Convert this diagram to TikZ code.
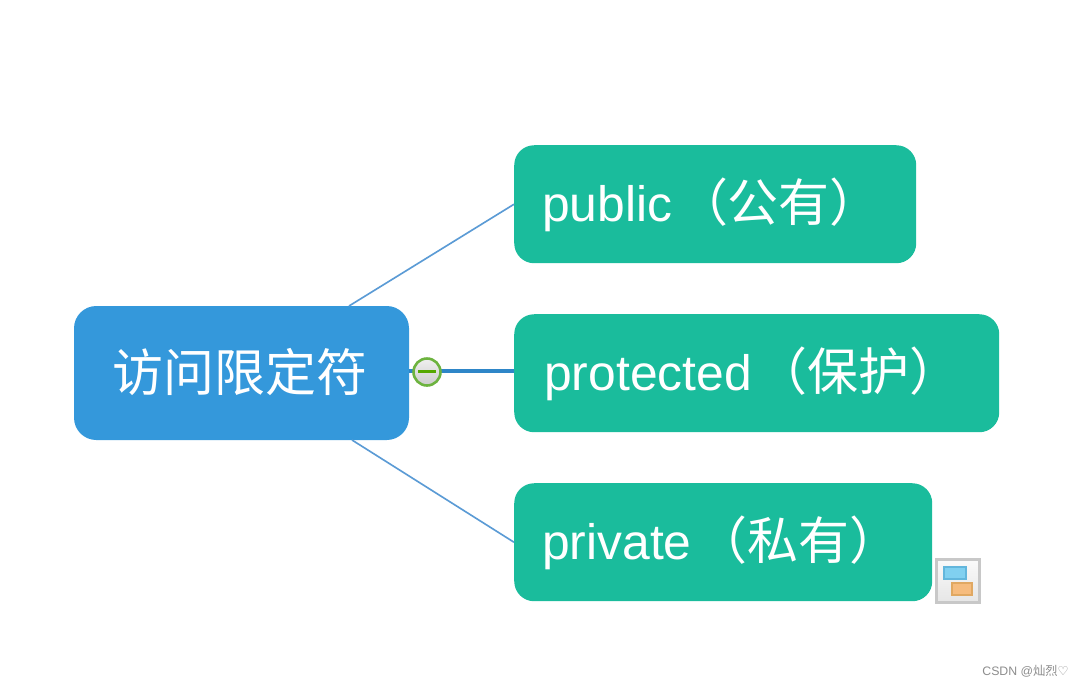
\documentclass[tikz,border=0pt]{standalone}
\usepackage{xcolor}
\usepackage{fontspec}
\setmainfont{Liberation Sans}
\newfontfamily\cjk{Noto Sans CJK SC}
\newfontfamily\symb{DejaVu Sans}
\usepackage{tikz}

\definecolor{rootblue}{HTML}{3498DB}
\definecolor{leafgreen}{HTML}{1ABC9C}
\definecolor{linkblue}{HTML}{5B9BD5}
\definecolor{midblue}{HTML}{2E86C8}
\definecolor{ringgreen}{HTML}{6DB33F}
\definecolor{bargreen}{HTML}{55A800}
\definecolor{iconedge}{HTML}{C8C8C8}
\definecolor{iconblueedge}{HTML}{62B6DC}
\definecolor{iconbluefill}{HTML}{80D0F0}
\definecolor{iconorangeedge}{HTML}{E0A862}
\definecolor{iconorangefill}{HTML}{F6BC7E}

\newcommand{\cjkpart}[1]{{\fontsize{43.5}{46}\cjk\hspace{4pt}#1}}

\tikzset{
    rootbox/.style={rectangle, rounded corners=19pt, fill=rootblue, inner sep=0pt},
    leafbox/.style={rectangle, rounded corners=17pt, fill=leafgreen, inner sep=0pt, anchor=north west},
    leaftext/.style={text=white, anchor=base west, inner sep=0pt, font=\fontsize{42.5}{46}\selectfont},
    link/.style={linkblue, line width=1.4pt},
}

\begin{document}
\begin{tikzpicture}[x=0.03cm, y=-0.03cm]
        \useasboundingbox (0,0) rectangle (1083,687);

        \node [rootbox, minimum width=335*0.03cm, minimum height=134*0.03cm] (root) at (241.5,373) {};
        \node [text=white, inner sep=0pt, font=\fontsize{43.5}{46}\selectfont\cjk] (rootlabel) at (240,372) {访问限定符};

        \node [leafbox, minimum width=402*0.03cm, minimum height=118*0.03cm] (public) at (514,145) {};
        \node [leafbox, minimum width=485*0.03cm, minimum height=118*0.03cm] (protected) at (514,314) {};
        \node [leafbox, minimum width=418*0.03cm, minimum height=118*0.03cm] (private) at (514,483) {};

        \node [leaftext] (publiclabel) at (542,221) {public\cjkpart{（公有）}};
        \node [leaftext] (protectedlabel) at (544,390) {protected\cjkpart{（保护）}};
        \node [leaftext] (privatelabel) at (542,559) {private\cjkpart{（私有）}};

        \coordinate (roottop) at (349,306);
        \coordinate (rootbottom) at (352,440);
        \coordinate (midleft) at (409,371);
        \coordinate (midright) at (514,371);

        \draw [link] (roottop) -- (public.west);
        \draw [link] (rootbottom) -- (private.west);
        \draw [midblue, line width=2.8pt] (midleft) -- (midright);

        % collapse button
        \node [circle, draw=ringgreen, line width=2.2pt, top color=black!6, bottom color=black!20, minimum size=27*0.03cm, inner sep=0pt] (toggle) at (427,372) {};
        \node [fill=bargreen, minimum width=18*0.03cm, minimum height=3*0.03cm, inner sep=0pt] (togglebar) at (427,371) {};

        % note icon
        \node [draw=iconedge, line width=2.6pt, top color=black!2, bottom color=black!10, minimum size=43*0.03cm, inner sep=0pt] (icon) at (958,581) {};
        \node [draw=iconblueedge, fill=iconbluefill, line width=1.6pt, minimum width=22*0.03cm, minimum height=12*0.03cm, inner sep=0pt] (iconblue) at (955,573) {};
        \node [draw=iconorangeedge, fill=iconorangefill, line width=1.6pt, minimum width=20*0.03cm, minimum height=12*0.03cm, inner sep=0pt] (iconorange) at (962,589) {};

        \node [anchor=east, inner sep=0pt, text=black!45, font=\fontsize{10.5}{12}\selectfont] (mark) at (1069,671) {CSDN @{\cjk 灿烈}{\symb ♡}};
    \end{tikzpicture}
\end{document}
